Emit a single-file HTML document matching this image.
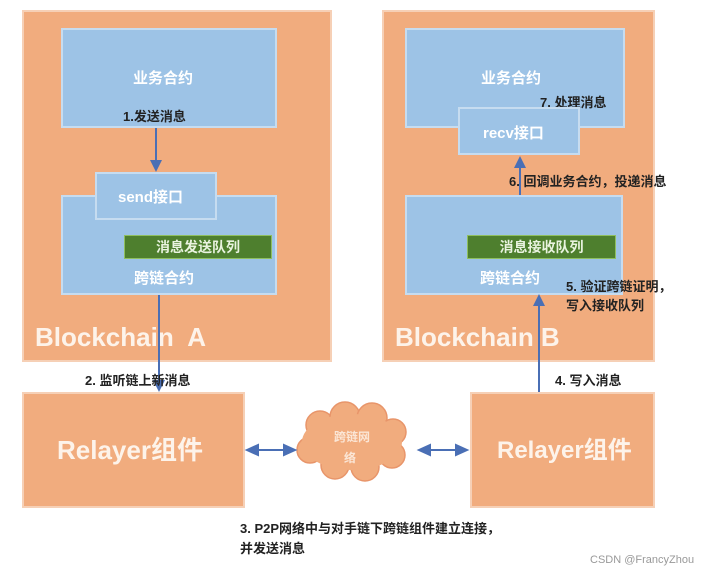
<!DOCTYPE html>
<html><head><meta charset="utf-8"><style>
body{margin:0;width:715px;height:575px;background:#fff;position:relative;overflow:hidden;font-family:"Liberation Sans","Noto Sans CJK SC",sans-serif;}
.a{position:absolute;box-sizing:border-box;}
.or{background:#f1ac7e;border:2px solid #f6d0b6;}
.bl{background:#9dc3e6;border:2px solid #c6dcf0;}
.gr{background:#4e7f2e;border:1px solid #8fbf5f;color:#e9f3df;font-weight:bold;font-size:14px;text-align:center;line-height:22px;}
.w{color:#fff;font-weight:bold;font-size:15px;}
.k{color:#222;font-weight:bold;font-size:13px;position:absolute;white-space:nowrap;}
.big{color:#fdf3ea;font-size:26px;position:absolute;white-space:nowrap;font-weight:bold;}
.ln{position:absolute;background:#4a6fb5;width:2px;}
</style></head><body>
<div class="a or" style="left:22px;top:10px;width:310px;height:352px"></div>
<div class="a bl" style="left:61px;top:28px;width:216px;height:100px"></div>
<div class="a w" style="left:133px;top:67px">业务合约</div>
<div class="k" style="left:123px;top:106px">1.发送消息</div>
<div class="a bl" style="left:61px;top:195px;width:216px;height:100px"></div>
<div class="a bl" style="left:95px;top:172px;width:122px;height:48px"></div>
<div class="a w" style="left:118px;top:186px;font-size:15px">send接口</div>
<div class="a gr" style="left:124px;top:235px;width:148px;height:24px">消息发送队列</div>
<div class="a w" style="left:134px;top:267px">跨链合约</div>
<div class="big" style="left:35px;top:322px">Blockchain&nbsp; A</div>
<div class="ln" style="left:155px;top:128px;height:38px"></div>
<div class="a" style="left:150px;top:160px;border-left:6px solid transparent;border-right:6px solid transparent;border-top:12px solid #4a6fb5"></div>

<div class="a or" style="left:382px;top:10px;width:273px;height:352px"></div>
<div class="a bl" style="left:405px;top:28px;width:220px;height:100px"></div>
<div class="a w" style="left:481px;top:67px">业务合约</div>
<div class="k" style="left:540px;top:92px">7. 处理消息</div>
<div class="a bl" style="left:458px;top:107px;width:122px;height:48px"></div>
<div class="a w" style="left:483px;top:122px;font-size:15px">recv接口</div>
<div class="a bl" style="left:405px;top:195px;width:218px;height:100px"></div>
<div class="a gr" style="left:467px;top:235px;width:149px;height:24px">消息接收队列</div>
<div class="a w" style="left:480px;top:267px">跨链合约</div>
<div class="ln" style="left:519px;top:165px;height:30px"></div>
<div class="a" style="left:514px;top:156px;border-left:6px solid transparent;border-right:6px solid transparent;border-bottom:12px solid #4a6fb5"></div>
<div class="k" style="left:509px;top:171px">6. 回调业务合约，投递消息</div>
<div class="k" style="left:566px;top:276px">5. 验证跨链证明，</div>
<div class="k" style="left:566px;top:295px">写入接收队列</div>
<div class="big" style="left:395px;top:322px">Blockchain B</div>

<div class="ln" style="left:158px;top:295px;height:90px"></div>
<div class="a" style="left:153px;top:380px;border-left:6px solid transparent;border-right:6px solid transparent;border-top:12px solid #4a6fb5"></div>
<div class="k" style="left:85px;top:370px">2. 监听链上新消息</div>
<div class="ln" style="left:538px;top:300px;height:92px"></div>
<div class="a" style="left:533px;top:294px;border-left:6px solid transparent;border-right:6px solid transparent;border-bottom:12px solid #4a6fb5"></div>
<div class="k" style="left:555px;top:370px">4. 写入消息</div>

<div class="a or" style="left:22px;top:392px;width:223px;height:116px"></div>
<div class="big" style="left:57px;top:430px">Relayer组件</div>
<div class="a or" style="left:470px;top:392px;width:185px;height:116px"></div>
<div class="big" style="left:497px;top:430px;font-size:24px">Relayer组件</div>

<svg class="a" style="left:0;top:0" width="715" height="575">
<g fill="#f1ac7e" stroke="#e8956a" stroke-width="1.5">
<circle cx="320" cy="425" r="14"/><circle cx="345" cy="417" r="15"/><circle cx="372" cy="418" r="15"/><circle cx="393" cy="432" r="13"/>
<circle cx="310" cy="450" r="13"/><circle cx="335" cy="465" r="14"/><circle cx="365" cy="467" r="14"/><circle cx="392" cy="455" r="13"/>
</g>
<ellipse cx="352" cy="442" rx="50" ry="28" fill="#f1ac7e"/>
<g stroke="#4a6fb5" stroke-width="2" fill="#4a6fb5">
<line x1="256" y1="450" x2="286" y2="450"/><polygon points="247,450 258,445 258,455"/><polygon points="295,450 284,445 284,455"/>
<line x1="428" y1="450" x2="458" y2="450"/><polygon points="419,450 430,445 430,455"/><polygon points="467,450 456,445 456,455"/>
</g>
<text x="352" y="441" fill="#fbe6d6" font-size="12" font-weight="bold" text-anchor="middle" font-family="Liberation Sans,Noto Sans CJK SC,sans-serif">跨链网</text>
<text x="350" y="462" fill="#fbe6d6" font-size="12" font-weight="bold" text-anchor="middle" font-family="Liberation Sans,Noto Sans CJK SC,sans-serif">络</text>
</svg>
<div class="k" style="left:240px;top:518px">3. P2P网络中与对手链下跨链组件建立连接，</div>
<div class="k" style="left:240px;top:538px">并发送消息</div>
<div class="a" style="left:590px;top:554px;font-size:11px;color:#999">CSDN @FrancyZhou</div>
</body></html>
